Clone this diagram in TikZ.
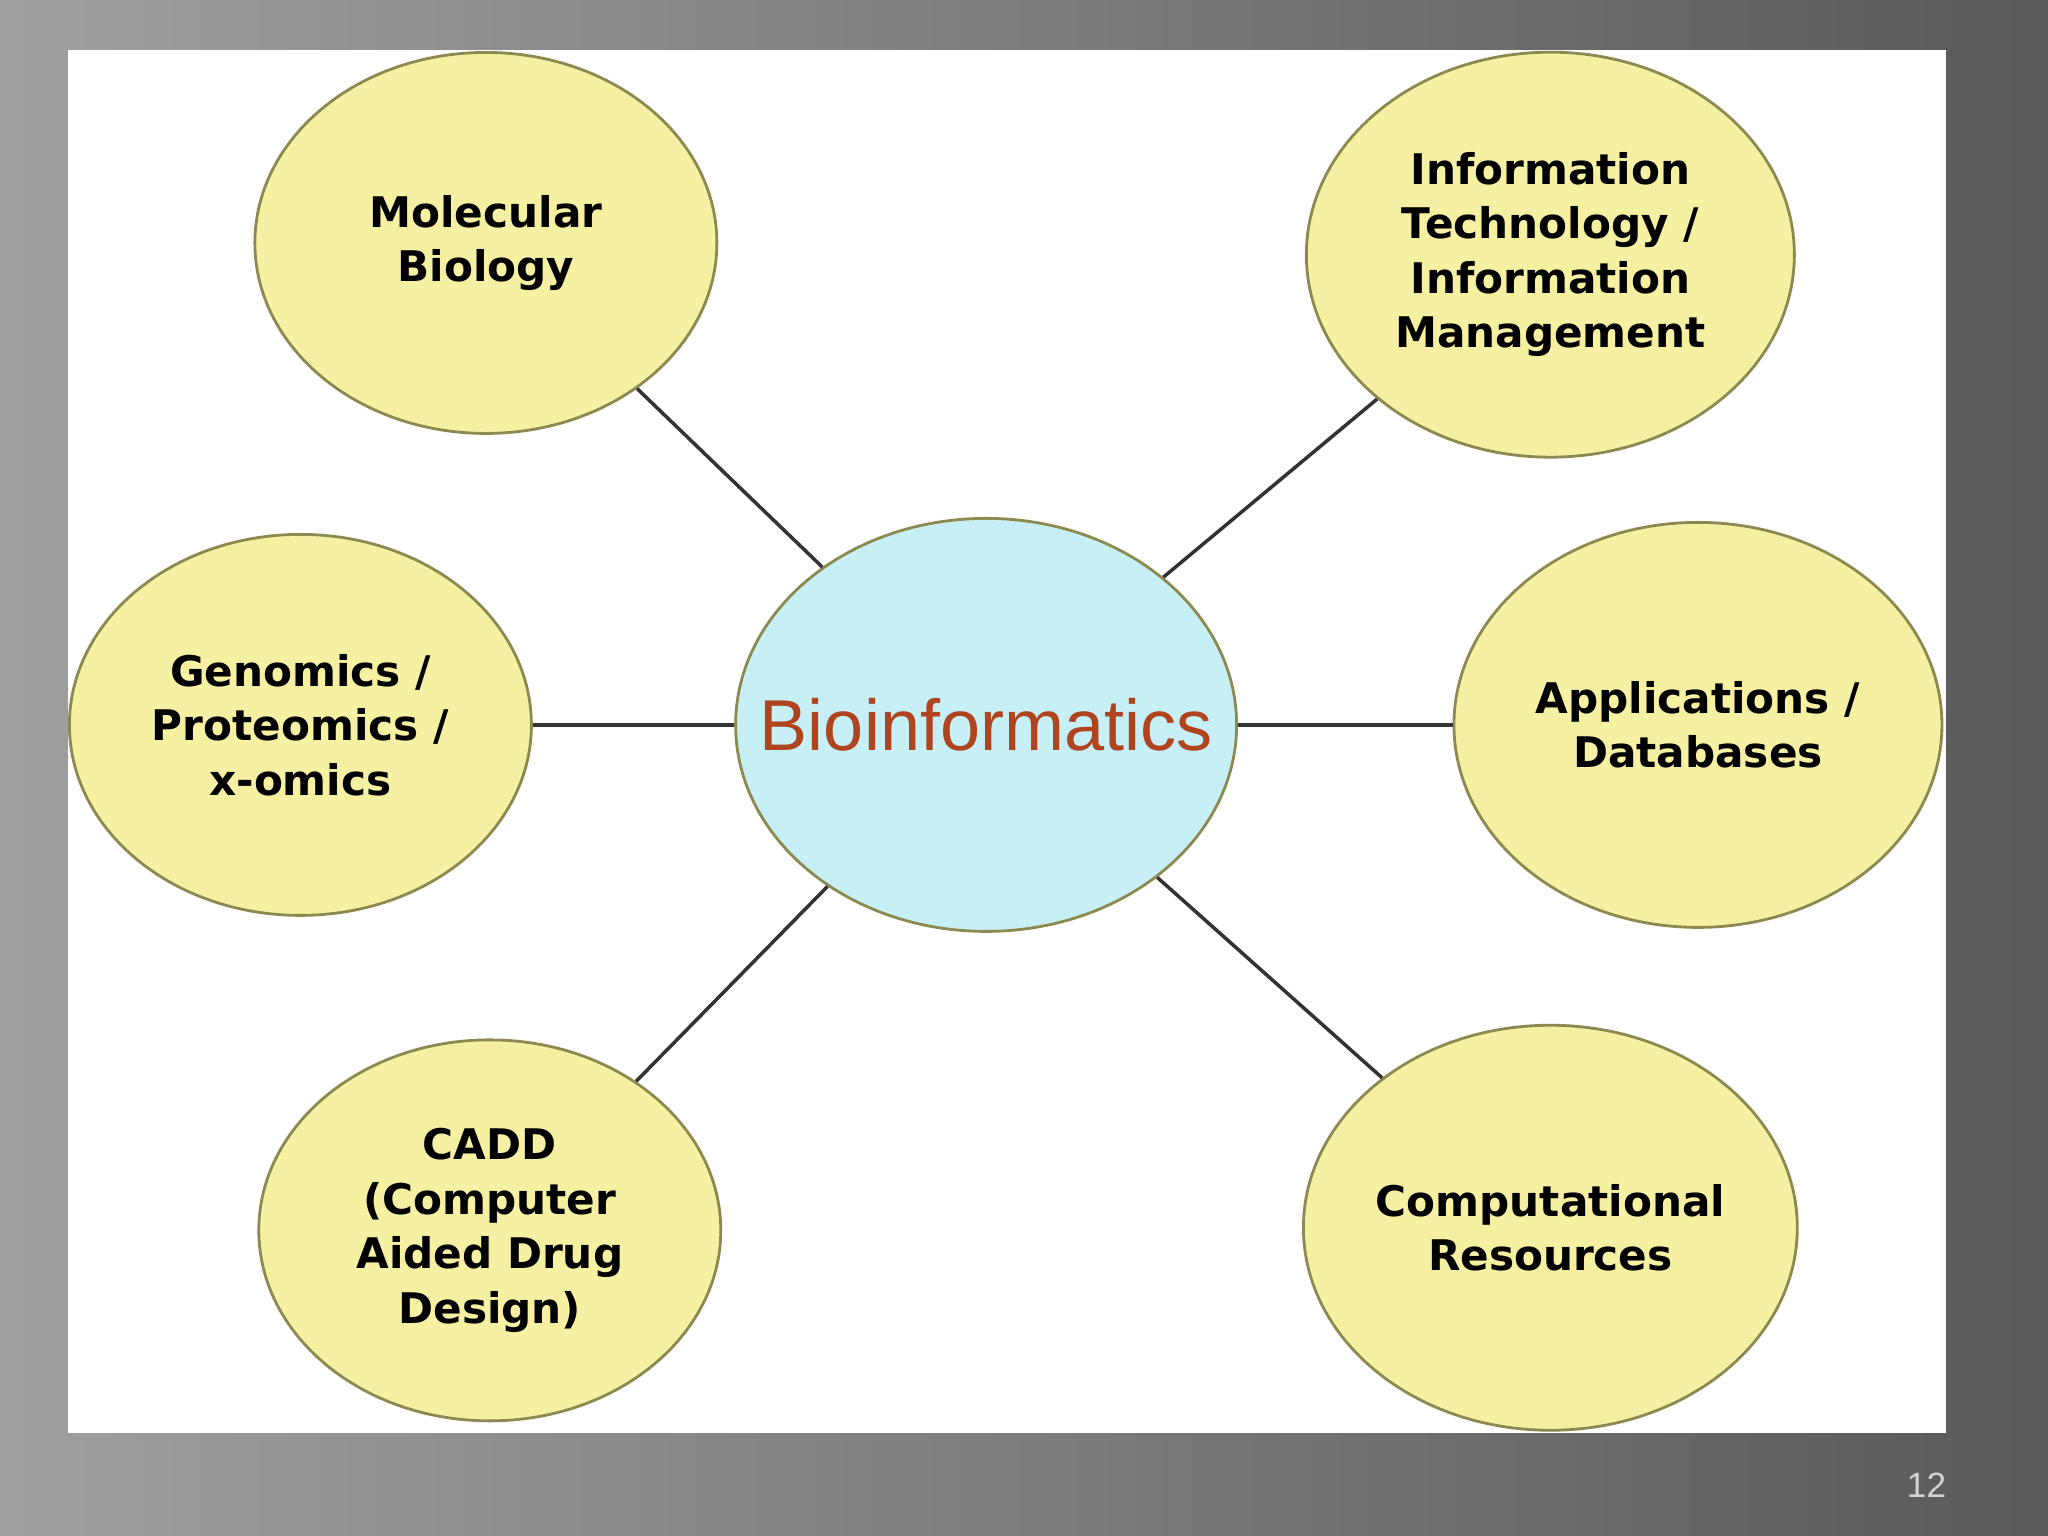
\documentclass[tikz,border=0pt]{standalone}
\usepackage{fontspec}
\setmainfont{DejaVu Sans}
\newfontfamily\arialf{Liberation Sans}
\usetikzlibrary{shapes.geometric}
\definecolor{yel}{HTML}{F6F0A2}
\definecolor{yelb}{HTML}{8C8A50}
\definecolor{cyn}{HTML}{C6F0F6}
\definecolor{brn}{HTML}{B0441E}
\tikzset{
 bub/.style={ellipse,draw=yelb,fill=yel,line width=0.8pt,minimum width=4.62cm,minimum height=3.81cm,align=center,font=\bfseries\fontsize{12}{15.5}\selectfont,inner sep=0pt},
 bubl/.style={bub,minimum width=4.88cm,minimum height=4.05cm},
 link/.style={draw=black!80,line width=1pt}
}
\begin{document}
\begin{tikzpicture}[x=0.01306cm,y=-0.01306cm]
\shade[left color=gray!75,right color=black!65] (0,0) rectangle (1568,1176);
\useasboundingbox (0,0) rectangle (1568,1176);
\fill[white] (52,38) rectangle (1490,1097);
\node[text=gray!35,font=\arialf\fontsize{10}{12}\selectfont] (pg) at (1475,1137) {12};
\node[ellipse,draw=yelb,fill=cyn,line width=0.8pt,minimum width=5.01cm,minimum height=4.13cm,inner sep=0pt] (c) at (755,555) {};
\node[text=brn,font=\arialf\fontsize{20.5}{24}\selectfont] (ct) at (c.center) {Bioinformatics};
\node[bub] (mb) at (372,186) {Molecular\\Biology};
\node[bubl] (it) at (1187,195) {Information\\Technology /\\Information\\Management};
\node[bub] (ge) at (230,555) {Genomics /\\Proteomics /\\x-omics};
\node[bubl] (ap) at (1300,555) {Applications /\\Databases};
\node[bub] (ca) at (375,942) {CADD\\(Computer\\Aided Drug\\Design)};
\node[bubl] (co) at (1187,940) {Computational\\Resources};
\foreach \n in {mb,it,ge,ap,ca,co} \draw[link] (c) -- (\n);
\end{tikzpicture}
\end{document}
